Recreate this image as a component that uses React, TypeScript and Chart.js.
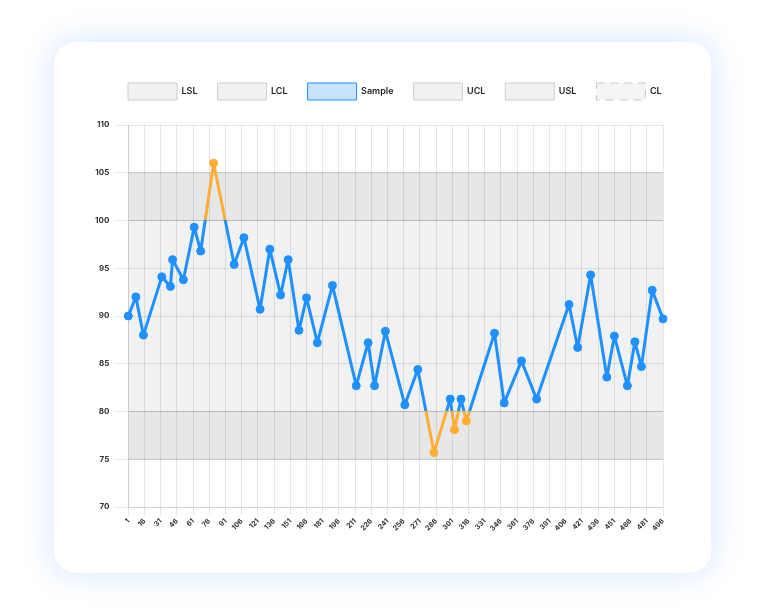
import { useEffect, useRef } from "react"
import { Chart, registerables } from "chart.js"

Chart.register(...registerables)

// sample positions and measured values
const sampleX = [1, 8, 15, 32, 40, 42, 52, 62, 68, 80, 99, 108, 123, 132, 142, 149, 159, 166, 176, 190, 212, 223, 229, 239, 257, 269, 284, 299, 303, 309, 314, 340, 349, 365, 379, 409, 417, 429, 444, 451, 463, 470, 476, 486, 496]
const sampleY = [90.0, 92.0, 88.0, 94.1, 93.1, 95.9, 93.8, 99.3, 96.8, 106.0, 95.4, 98.2, 90.7, 97.0, 92.2, 95.9, 88.5, 91.9, 87.2, 93.2, 82.7, 87.2, 82.7, 88.4, 80.7, 84.4, 75.7, 81.3, 78.1, 81.3, 79.0, 88.2, 80.9, 85.3, 81.3, 91.2, 86.7, 94.3, 83.6, 87.9, 82.7, 87.3, 84.7, 92.7, 89.7]

// limits
const LSL = 75
const LCL = 80
const CL = 90
const UCL = 100
const USL = 105

const xTickLabels = [1, 16, 31, 46, 61, 76, 91, 106, 121, 136, 151, 166, 181, 196, 211, 226, 241, 256, 271, 286, 301, 316, 331, 346, 361, 376, 391, 406, 421, 436, 451, 466, 481, 496]
const yTickLabels = [70, 75, 80, 85, 90, 95, 100, 105, 110]

const BLUE = "rgb(30, 144, 255)"
const ORANGE = "rgb(255, 173, 51)"
const FONT = "Inter, 'Noto Sans', sans-serif"

const xMin = xTickLabels[0]
const xMax = xTickLabels[xTickLabels.length - 1]

function flat(v: number) {
  return [
    { x: xMin, y: v },
    { x: xMax, y: v },
  ]
}

export default function App() {
  const chartRef = useRef<HTMLCanvasElement>(null)
  const chartInstance = useRef<Chart | null>(null)

  useEffect(() => {
    if (!chartRef.current) return
    if (chartInstance.current) chartInstance.current.destroy()
    const ctx = chartRef.current.getContext("2d")
    if (!ctx) return

    // blue inside the control limits, orange outside
    const lineColor = (c: any) => {
      const chart = c.chart
      const area = chart.chartArea
      if (!area) return BLUE
      const y = chart.scales.y
      const h = area.bottom - area.top
      const fTop = (y.getPixelForValue(UCL) - area.top) / h
      const fBot = (y.getPixelForValue(LCL) - area.top) / h
      const g = chart.ctx.createLinearGradient(0, area.top, 0, area.bottom)
      g.addColorStop(0, ORANGE)
      g.addColorStop(fTop, ORANGE)
      g.addColorStop(fTop, BLUE)
      g.addColorStop(fBot, BLUE)
      g.addColorStop(fBot, ORANGE)
      g.addColorStop(1, ORANGE)
      return g
    }

    const pointColor = (c: any) => {
      const v = c.raw?.y
      return v > UCL || v < LCL ? ORANGE : BLUE
    }

    // legend sits over the plot area, one row
    const legendPlace = {
      id: "legendPlace",
      beforeInit(chart: any) {
        const fit = chart.legend.fit
        chart.legend.fit = function () {
          fit.bind(chart.legend)()
          this.height = 62
        }
      },
      afterLayout(chart: any) {
        const lg = chart.legend
        lg.left = 54
        lg.right = 700
        lg.width = lg.right - lg.left
      },
    }

    const bandLine = "rgba(0, 0, 0, 0.13)"

    chartInstance.current = new Chart(ctx, {
      type: "line",
      data: {
        datasets: [
          {
            label: "LSL",
            data: flat(LSL),
            borderColor: bandLine,
            borderWidth: 1,
            backgroundColor: "#f0f1f1",
            pointRadius: 0,
            fill: false,
          },
          {
            label: "LCL",
            data: flat(LCL),
            borderColor: bandLine,
            borderWidth: 1,
            backgroundColor: "rgba(120, 130, 140, 0.19)",
            pointRadius: 0,
            fill: { value: LSL },
          },
          {
            label: "Sample",
            data: sampleX.map((x, i) => ({ x, y: sampleY[i] })),
            borderColor: lineColor,
            backgroundColor: "rgba(30, 144, 255, 0.25)",
            borderWidth: 3,
            borderJoinStyle: "round",
            pointRadius: 4,
            pointBorderWidth: 1,
            pointBackgroundColor: pointColor,
            pointBorderColor: pointColor,
            fill: false,
            tension: 0,
            clip: false,
            order: -1,
          },
          {
            label: "UCL",
            data: flat(UCL),
            borderColor: bandLine,
            borderWidth: 1,
            backgroundColor: "rgba(120, 130, 130, 0.11)",
            pointRadius: 0,
            fill: { value: LCL },
          },
          {
            label: "USL",
            data: flat(USL),
            borderColor: bandLine,
            borderWidth: 1,
            backgroundColor: "rgba(120, 130, 140, 0.19)",
            pointRadius: 0,
            fill: { value: UCL },
          },
          {
            label: "CL",
            data: flat(CL),
            borderColor: "rgba(0, 0, 0, 0.03)",
            borderWidth: 1,
            borderDash: [8, 6],
            backgroundColor: "#f4f5f5",
            pointRadius: 0,
            fill: false,
          },
        ],
      },
      options: {
        responsive: true,
        maintainAspectRatio: false,
        animation: false,
        layout: { padding: { left: 20, right: 48, top: 21, bottom: 26 } },
        scales: {
          x: {
            type: "linear",
            min: xMin,
            max: xMax,
            afterBuildTicks: (axis: any) => {
              axis.ticks = xTickLabels.map((v) => ({ value: v }))
            },
            afterFit: (axis: any) => {
              axis.height = 40
            },
            grid: { color: "rgba(0, 0, 0, 0.1)", tickLength: 8 },
            border: { color: "rgba(0, 0, 0, 0.1)" },
            ticks: {
              minRotation: 45,
              maxRotation: 45,
              autoSkip: false,
              padding: 2,
              color: "#333",
              font: { family: FONT, size: 7, weight: "bold" },
              callback: (v: any) => String(v),
            },
          },
          y: {
            min: yTickLabels[0],
            max: yTickLabels[yTickLabels.length - 1],
            afterBuildTicks: (axis: any) => {
              axis.ticks = yTickLabels.map((v) => ({ value: v }))
            },
            afterFit: (axis: any) => {
              axis.width = 54.3
            },
            grid: { color: "rgba(0, 0, 0, 0.1)", tickLength: 13 },
            border: { color: "rgba(0, 0, 0, 0.1)" },
            ticks: {
              padding: 6,
              color: "#333",
              font: { family: FONT, size: 8, weight: "bold" },
            },
          },
        },
        plugins: {
          legend: {
            display: true,
            position: "top",
            align: "start",
            labels: {
              boxWidth: 49,
              boxHeight: 17,
              padding: 20,
              color: "#222",
              font: { family: FONT, size: 9, weight: 600 },
              sort: (a: any, b: any) => a.datasetIndex - b.datasetIndex,
              generateLabels: (chart: any) => {
                const items = Chart.defaults.plugins.legend.labels.generateLabels(chart)
                return items.map((it: any) => {
                  const name = it.text
                  if (name === "Sample") {
                    return { ...it, lineWidth: 1, strokeStyle: BLUE, fillStyle: "rgba(30, 144, 255, 0.25)" }
                  }
                  if (name === "CL") {
                    return { ...it, lineWidth: 1, strokeStyle: "#c8c9ca", fillStyle: "#f3f4f4", lineDash: [8, 6] }
                  }
                  return { ...it, lineWidth: 1, strokeStyle: "#cdcecf", fillStyle: "#f0f1f1" }
                })
              },
            },
          },
          tooltip: { enabled: false },
        },
      },
      plugins: [legendPlace],
    })

    return () => {
      if (chartInstance.current) {
        chartInstance.current.destroy()
        chartInstance.current = null
      }
    }
  }, [])

  return (
    <div
      style={{
        position: "absolute",
        left: 54,
        top: 42,
        width: 657,
        height: 531,
        background: "#fff",
        borderRadius: 22,
        boxShadow: "0 0 28px 6px rgba(120, 175, 255, 0.22)",
      }}
    >
      <div style={{ position: "absolute", left: 0, top: 0, width: 657, height: 531 }}>
        <canvas ref={chartRef} />
      </div>
    </div>
  )
}
